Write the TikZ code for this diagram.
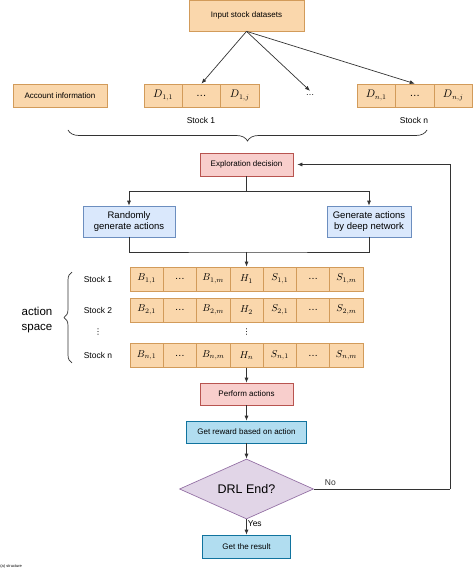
\documentclass[tikz,border=0pt]{standalone}
\usepackage{fontspec}
\setmainfont{Liberation Sans}
\newfontfamily\symfont{DejaVu Sans}
\usetikzlibrary{arrows.meta,calc,positioning,shapes.geometric,decorations.pathreplacing}
\definecolor{orfill}{HTML}{FAD7AC}
\definecolor{ordraw}{HTML}{D29B5A}
\definecolor{rdfill}{HTML}{F8CECC}
\definecolor{rddraw}{HTML}{B85450}
\definecolor{blfill}{HTML}{DAE8FC}
\definecolor{bldraw}{HTML}{6C8EBF}
\definecolor{cyfill}{HTML}{B1DDF0}
\definecolor{cydraw}{HTML}{10739E}
\definecolor{pufill}{HTML}{E1D5E7}
\definecolor{pudraw}{HTML}{9673A6}
\definecolor{lncol}{HTML}{333333}

\begin{document}
\begin{tikzpicture}[x=1pt,y=-1pt,>={Latex[length=5pt,width=4pt]},line width=0.7pt,
  box/.style={draw,inner sep=1pt,align=center,font=\fontsize{8}{9.5}\selectfont},
  orbox/.style={box,fill=orfill,draw=ordraw},
  rdbox/.style={box,fill=rdfill,draw=rddraw},
  blbox/.style={box,fill=blfill,draw=bldraw,font=\fontsize{9.5}{11}\selectfont},
  cybox/.style={box,fill=cyfill,draw=cydraw},
  cell/.style={orbox,minimum height=24pt,inner sep=0pt,font=\fontsize{10}{11}\selectfont},
  lbl/.style={font=\fontsize{8.5}{10}\selectfont},
  conn/.style={->,draw=lncol}]
  \useasboundingbox (0,0) rectangle (474,569);

  % Input data
  \node[orbox,minimum width=115pt,minimum height=31pt] (input) at (246.5,15.5) {Input stock datasets};
  \node[orbox,minimum width=94pt,minimum height=23pt] (acct) at (60,95.5) {Account information};
  \foreach \t [count=\i] in {{$D_{1,1}$},{\ldots},{$D_{1,j}$}}
    \node[cell,minimum width=38.3pt,minimum height=23pt,font=\fontsize{10.5}{12}\selectfont] (da\i) at ({144+38.3*(\i-0.5)},95.5) {\t};
  \foreach \t [count=\i] in {{$D_{n,1}$},{\ldots},{$D_{n,j}$}}
    \node[cell,minimum width=38.5pt,minimum height=23pt,font=\fontsize{10.5}{12}\selectfont] (dn\i) at ({357+38.5*(\i-0.5)},95.5) {\t};
  \node[lbl] (ddots) at (310,95) {\ldots};
  \node[lbl] (stka) at (201,120) {Stock 1};
  \node[lbl] (stkn) at (414,120) {Stock n};

  \draw[conn] (input.south) -- (da2.north);
  \draw[conn] (input.south) -- (ddots.north);
  \draw[conn] (input.south) -- (dn2.north);

  \draw[lncol,decorate,decoration={brace,amplitude=11pt}] (427,130) -- (68,130);

  % Exploration
  \node[rdbox,minimum width=93pt,minimum height=23pt] (expl) at (246.5,164.5) {Exploration decision};
  \node[blbox,minimum width=92pt,minimum height=31pt] (rand) at (129,221.5) {Randomly\\generate actions};
  \node[blbox,minimum width=84pt,minimum height=31pt] (gen) at (369,221.5) {Generate actions\\by deep network};
  \coordinate (split) at (246.5,191);
  \coordinate (join) at (246.5,252);
  \draw[lncol] (expl.south) -- (split);
  \draw[conn] (split) -| (rand.north);
  \draw[conn] (split) -| (gen.north);
  \draw[lncol] (rand.south) |- (join) -| (gen.south);

  % Action space
  \foreach \r/\yy in {1/279,2/310,n/355.5} {
    \node[lbl] (stk\r) at (98,\yy) {Stock \r};
    \foreach \t [count=\i] in {{$B_{\r,1}$},{\ldots},{$B_{\r,m}$},{$H_{\r}$},{$S_{\r,1}$},{\ldots},{$S_{\r,m}$}}
      \node[cell,minimum width=33.3pt] (r\r c\i) at ({130+33.3*(\i-0.5)},\yy) {\t};
  }
  \node[inner sep=0pt,font=\symfont\fontsize{8}{8}\selectfont] (vdl) at (98,332) {⋮};
  \node[inner sep=0pt,font=\symfont\fontsize{8}{8}\selectfont] (vdr) at (246.5,332) {⋮};
  \draw[lncol,decorate,decoration={brace,amplitude=8pt}] (72,363) -- (72,272);
  \node[font=\fontsize{11.5}{15}\selectfont,align=left] (aspace) at (37,320) {action\\space};
  \draw[conn] (join) -- (r1c4.north);

  % Loop
  \node[rdbox,minimum width=93pt,minimum height=22pt] (perf) at (246.5,394) {Perform actions};
  \node[cybox,minimum width=120pt,minimum height=22pt] (reward) at (246.5,432) {Get reward based on action};
  \node[draw=pudraw,fill=pufill,diamond,aspect=2.23,minimum width=134pt,minimum height=60pt,inner sep=0pt,
        font=\fontsize{12.5}{14}\selectfont] (drl) at (246.5,489) {DRL End?};
  \node[cybox,minimum width=88pt,minimum height=23pt] (result) at (246.5,546.5) {Get the result};
  \coordinate (back) at (450,489);

  \draw[conn] (rnc4.south) -- (perf.north);
  \draw[conn] (perf.south) -- (reward.north);
  \draw[conn] (reward.south) -- (drl.north);
  \draw[conn] (drl.south) -- node[right,lbl,inner sep=1pt,pos=0.3] {Yes} (result.north);
  \draw[lncol] (drl.east) -- node[above left,lbl,pos=0.1,xshift=12pt] {No} (back);
  \draw[conn,shorten >=4pt] (back) |- (expl.east);

  \node[anchor=south west,inner sep=0pt,font=\fontsize{4}{4}\selectfont] (capt) at (0,569) {(a) structure};
\end{tikzpicture}
\end{document}
